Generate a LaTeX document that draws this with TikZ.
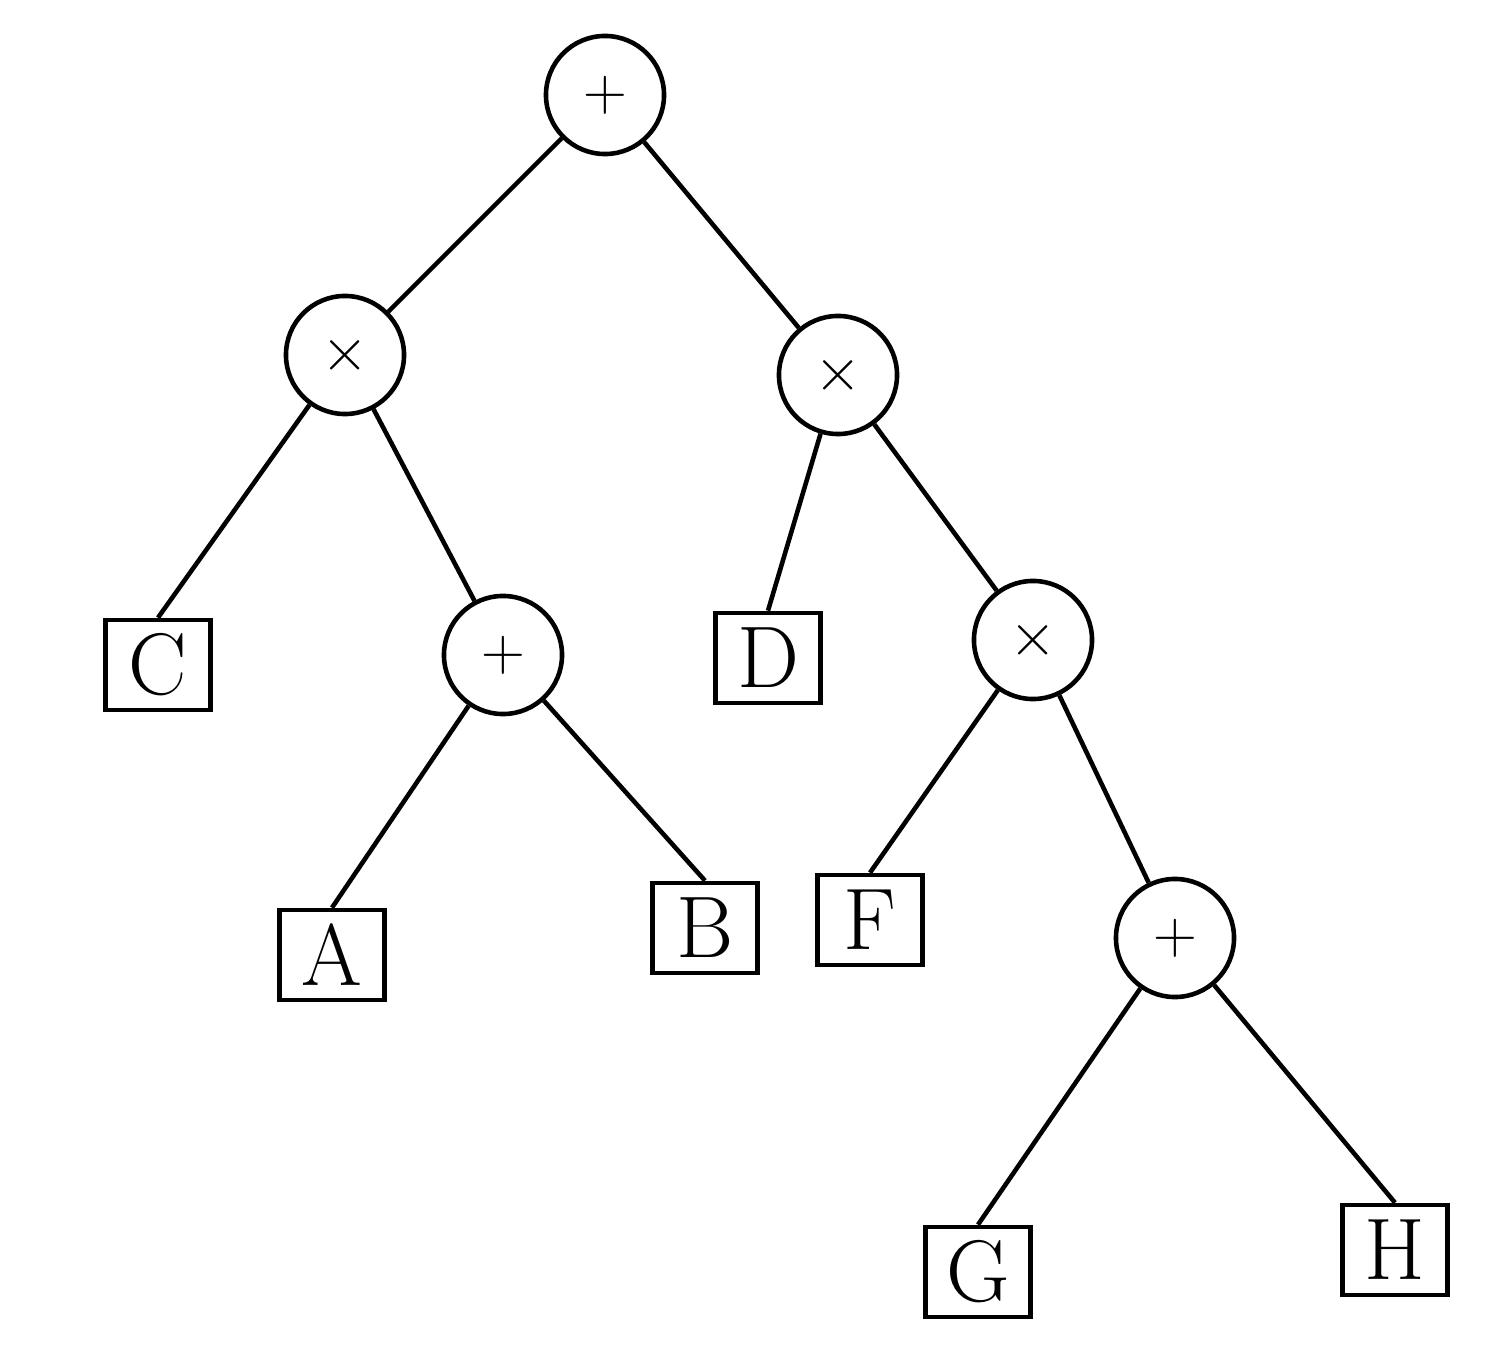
\documentclass[tikz,border=0pt]{standalone}
\usetikzlibrary{positioning}
\tikzset{
  opnode/.style={draw, circle, line width=1.3pt, minimum size=1.18cm, inner sep=0pt, font=\LARGE},
  leafnode/.style={draw, rectangle, line width=1.3pt, minimum width=1.05cm, minimum height=0.9cm, inner sep=0pt, font=\Huge},
  branch/.style={line width=1.3pt}
}
\begin{document}
\begin{tikzpicture}[x=0.01cm, y=-0.01cm]
  \useasboundingbox (0,0) rectangle (1496,1355);

  % Operateurs
  \node[opnode] (racine) at (605,95) {$+$};
  \node[opnode] (multg) at (345,355) {$\times$};
  \node[opnode] (multd) at (838,375) {$\times$};
  \node[opnode] (plusab) at (503,655) {$+$};
  \node[opnode] (multf) at (1033,640) {$\times$};
  \node[opnode] (plusgh) at (1175,938) {$+$};

  % Feuilles
  \node[leafnode] (C) at (158,665) {C};
  \node[leafnode] (D) at (768,658) {D};
  \node[leafnode] (A) at (332,955) {A};
  \node[leafnode] (B) at (705,928) {B};
  \node[leafnode] (F) at (870,920) {F};
  \node[leafnode] (G) at (978,1272) {G};
  \node[leafnode] (H) at (1395,1250) {H};

  % Branches
  \draw[branch] (racine) -- (multg);
  \draw[branch] (racine) -- (multd);
  \draw[branch] (multg) -- (C.north);
  \draw[branch] (multg) -- (plusab);
  \draw[branch] (plusab) -- (A.north);
  \draw[branch] (plusab) -- (B.north);
  \draw[branch] (multd) -- (D.north);
  \draw[branch] (multd) -- (multf);
  \draw[branch] (multf) -- (F.north);
  \draw[branch] (multf) -- (plusgh);
  \draw[branch] (plusgh) -- (G.north);
  \draw[branch] (plusgh) -- (H.north);

\end{tikzpicture}
\end{document}
